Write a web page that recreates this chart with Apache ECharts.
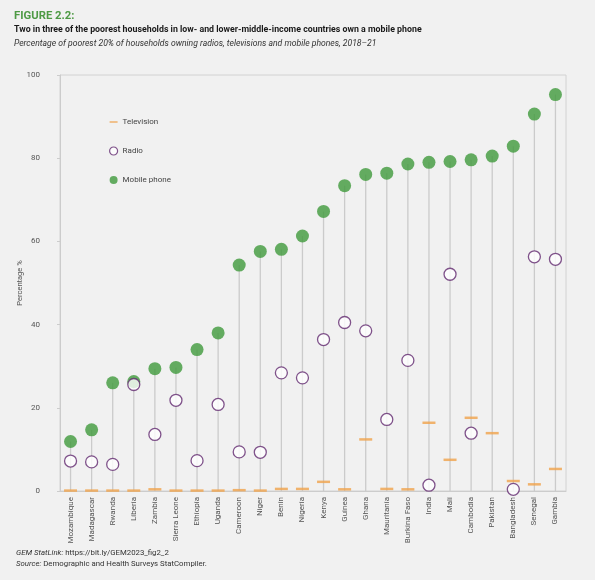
<!DOCTYPE html>
<html>
<head>
<meta charset="utf-8">
<script src="https://cdn.jsdelivr.net/npm/echarts@6/dist/echarts.min.js"></script>
<style>
html,body{margin:0;padding:0;background:#f1f1f1;}
#chart{width:595px;height:580px;}
</style>
</head>
<body>
<div id="chart"></div>
<script>
const countries = ['Mozambique','Madagascar','Rwanda','Liberia','Zambia','Sierra Leone','Ethiopia','Uganda','Cameroon','Niger','Benin','Nigeria','Kenya','Guinea','Ghana','Mauritania','Burkina Faso','India','Mali','Cambodia','Pakistan','Bangladesh','Senegal','Gambia'];
const mobile = [11.9, 14.7, 26.0, 26.3, 29.4, 29.7, 34.0, 38.0, 54.3, 57.6, 58.1, 61.3, 67.2, 73.4, 76.1, 76.4, 78.6, 79.0, 79.2, 79.6, 80.5, 82.9, 90.6, 95.3];
const radio = [7.2, 7.0, 6.4, 25.6, 13.6, 21.8, 7.3, 20.8, 9.4, 9.3, 28.4, 27.2, 36.4, 40.5, 38.5, 17.2, 31.4, 1.4, 52.1, 13.9, null, 0.4, 56.3, 55.7];
const television = [0.1, 0.1, 0.1, 0.1, 0.4, 0.1, 0.1, 0.1, 0.2, 0.1, 0.5, 0.5, 2.2, 0.4, 12.4, 0.5, 0.4, 16.4, 7.5, 17.6, 13.9, 2.4, 1.6, 5.3];
const yTicks = {min: 0, max: 100, interval: 20};

const FONT = 'Roboto, "Noto Sans", sans-serif';
const chart = echarts.init(document.getElementById('chart'), null, {renderer: 'canvas'});
chart.setOption({
  backgroundColor: '#f1f1f1',
  animation: false,
  textStyle: {fontFamily: FONT},
  title: [
    {text: 'FIGURE 2.2:', left: 14, top: 11, padding: 0,
     textStyle: {fontSize: 11.3, fontWeight: 'bold', color: '#4e9a45', fontFamily: FONT}},
    {text: 'Two in three of the poorest households in low- and lower-middle-income countries own a mobile phone', left: 14, top: 25, padding: 0,
     textStyle: {fontSize: 8.8, fontWeight: 'bold', color: '#1a1a1a', fontFamily: FONT}},
    {text: 'Percentage of poorest 20% of households owning radios, televisions and mobile phones, 2018–21', left: 14, top: 39, padding: 0,
     textStyle: {fontSize: 8.6, fontWeight: 'normal', fontStyle: 'italic', color: '#333', fontFamily: FONT}},
    {text: '{i|GEM StatLink:} https://bit.ly/GEM2023_fig2_2\n{i|Source:} Demographic and Health Surveys StatCompiler.', left: 16, top: 548, padding: 0,
     textStyle: {fontSize: 7.8, fontWeight: 'normal', color: '#333', lineHeight: 11, fontFamily: FONT,
       rich: {i: {fontStyle: 'italic', fontWeight: 'normal', fontSize: 7.8, color: '#333', fontFamily: FONT}}}}
  ],
  legend: {
    orient: 'vertical', left: 109, top: 117, itemGap: 19, padding: 0,
    itemWidth: 8, itemHeight: 8,
    textStyle: {fontSize: 8, color: '#444', lineHeight: 10, fontFamily: FONT},
    data: [
      {name: 'Television', icon: 'path://M0,0 L16,0 L16,3 L0,3 Z', itemStyle: {color: '#f0a24b', borderWidth: 0}},
      {name: 'Radio', icon: 'circle', itemStyle: {color: '#ffffff', borderColor: '#62296f', borderWidth: 1.2}},
      {name: 'Mobile phone', icon: 'circle', itemStyle: {color: '#409a3c', borderWidth: 0}}
    ]
  },
  grid: {left: 60, right: 29, top: 75, bottom: 89, show: true, borderColor: '#d2d2d2', borderWidth: 1, backgroundColor: 'transparent'},
  xAxis: {
    type: 'category', data: countries, boundaryGap: true,
    axisLine: {show: true, lineStyle: {color: '#cccccc'}},
    axisTick: {show: false},
    axisLabel: {rotate: 90, interval: 0, fontSize: 8, color: '#555', margin: 6, fontFamily: FONT}
  },
  yAxis: {
    type: 'value', min: yTicks.min, max: yTicks.max, interval: yTicks.interval,
    name: 'Percentage %', nameLocation: 'middle', nameGap: 36, nameRotate: 90,
    nameMoveOverlap: false,
    nameTextStyle: {fontSize: 7.5, color: '#555', fontFamily: FONT},
    axisLine: {show: true, lineStyle: {color: '#cccccc'}},
    axisTick: {show: true, inside: false, length: 3, lineStyle: {color: '#cccccc'}},
    axisLabel: {fontSize: 8, color: '#555', margin: 20, fontFamily: FONT},
    splitLine: {show: false}
  },
  series: [
    {name: 'stem', type: 'bar', data: mobile, barWidth: 1.3, silent: true,
     itemStyle: {color: '#cbcbcb'}, z: 1},
    {name: 'Mobile phone', type: 'scatter', data: mobile, symbol: 'circle', symbolSize: 13,
     itemStyle: {color: '#409a3c'}, z: 3},
    {name: 'Radio', type: 'scatter', data: radio, symbol: 'circle', symbolSize: 12,
     itemStyle: {color: '#ffffff', borderColor: '#62296f', borderWidth: 1.3}, z: 4},
    {name: 'Television', type: 'scatter', data: television, symbol: 'rect', symbolSize: [13, 2.5],
     itemStyle: {color: '#f0a24b'}, z: 5}
  ]
});
</script>
</body>
</html>
